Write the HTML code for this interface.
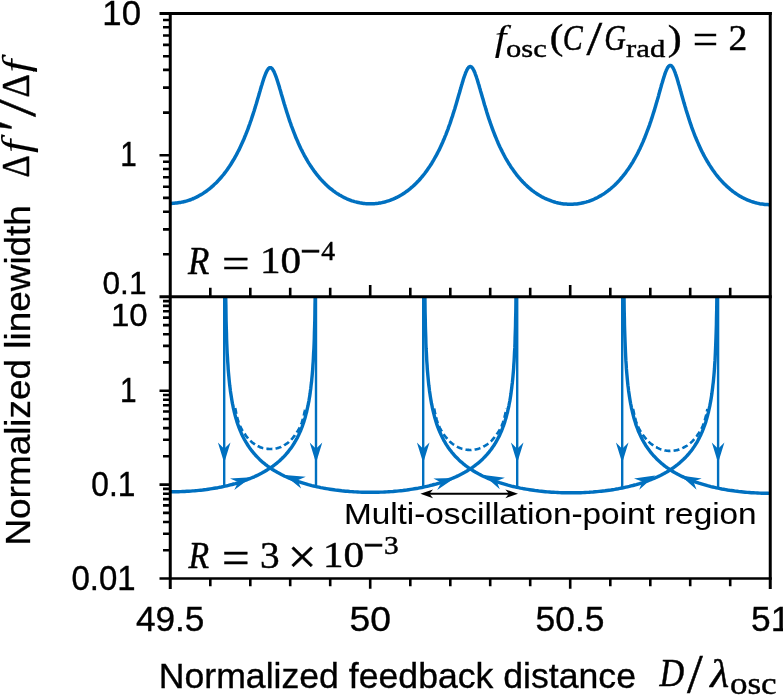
<!DOCTYPE html>
<html><head><meta charset="utf-8"><style>
html,body{margin:0;padding:0;background:#fff;overflow:hidden;}
svg{display:block;}
.s{font-family:'Liberation Sans',Arial,sans-serif;}
.m{font-family:'Liberation Serif','Times New Roman',serif;}
.i{font-style:italic;}
</style></head><body>
<svg width="783" height="696" viewBox="0 0 783 696">
<defs>
<clipPath id="clipT"><rect x="170.25" y="13.5" width="600" height="283.3"/></clipPath>
<clipPath id="clipB"><rect x="170.25" y="296.8" width="600" height="281.7"/></clipPath>
</defs>
<rect width="783" height="696" fill="#fff"/>
<g clip-path="url(#clipT)"><path d="M161.1,202.6 162.4,202.8 163.7,203 165,203.1 166.3,203.2 167.6,203.3 168.9,203.3 170.3,203.4 171.6,203.4 172.9,203.3 174.2,203.2 175.5,203.1 176.8,203 178.1,202.8 179.4,202.6 180.7,202.4 182,202.1 183.3,201.9 184.6,201.5 185.9,201.2 187.2,200.8 188.5,200.4 189.8,200 191.1,199.5 192.3,199 193.6,198.5 194.9,197.9 196.1,197.3 197.4,196.7 198.6,196 199.8,195.3 201.1,194.6 202.3,193.9 203.5,193.1 204.7,192.3 205.9,191.5 207.1,190.6 208.3,189.7 209.4,188.8 210.6,187.9 211.7,186.9 212.9,185.9 214,184.8 215.1,183.8 216.3,182.7 217.4,181.6 218.4,180.4 219.5,179.2 220.6,178 221.7,176.8 222.7,175.5 223.7,174.3 224.8,172.9 225.8,171.6 226.8,170.2 227.8,168.9 228.7,167.4 229.7,166 230.7,164.5 231.6,163 232.5,161.5 233.4,160 234.4,158.5 235.2,156.9 236.1,155.3 237,153.7 237.8,152 238.7,150.4 239.5,148.7 240.3,147 241.1,145.3 241.9,143.6 242.7,141.8 243.5,140.1 244.2,138.3 244.9,136.5 245.7,134.7 246.4,132.9 247.1,131.1 247.8,129.3 248.5,127.5 249.1,125.6 249.8,123.8 250.4,122 251.1,120.1 251.7,118.3 252.3,116.4 252.9,114.6 253.5,112.8 254.1,111 254.6,109.2 255.2,107.4 255.7,105.6 256.3,103.8 256.8,102 257.3,100.3 257.8,98.6 258.3,96.9 258.8,95.2 259.3,93.6 259.7,92 260.2,90.4 260.6,88.9 261.1,87.4 261.5,85.9 262,84.5 262.4,83.1 262.8,81.8 263.2,80.5 263.6,79.2 264,78 264.4,76.9 264.8,75.8 265.2,74.8 265.6,73.9 266,73 266.3,72.1 266.7,71.4 267.1,70.7 267.4,70.1 267.8,69.5 268.1,69 268.5,68.6 268.8,68.3 269.2,68 269.5,67.8 269.9,67.7 270.2,67.7 270.6,67.7 271,67.8 271.3,68 271.7,68.3 272,68.6 272.4,69 272.7,69.5 273.1,70 273.4,70.7 273.8,71.3 274.2,72.1 274.5,72.9 274.9,73.8 275.3,74.8 275.7,75.8 276.1,76.9 276.5,78 276.9,79.2 277.3,80.4 277.7,81.7 278.1,83 278.5,84.4 279,85.8 279.4,87.3 279.8,88.8 280.3,90.3 280.8,91.9 281.2,93.5 281.7,95.2 282.2,96.8 282.7,98.5 283.2,100.2 283.7,102 284.2,103.7 284.8,105.5 285.3,107.3 285.9,109.1 286.4,110.9 287,112.7 287.6,114.5 288.2,116.4 288.8,118.2 289.4,120.1 290,121.9 290.7,123.7 291.3,125.6 292,127.4 292.7,129.2 293.4,131.1 294.1,132.9 294.8,134.7 295.5,136.5 296.2,138.3 297,140 297.8,141.8 298.5,143.5 299.3,145.3 300.1,147 300.9,148.7 301.8,150.4 302.6,152 303.5,153.7 304.3,155.3 305.2,156.9 306.1,158.5 307,160 307.9,161.6 308.8,163.1 309.8,164.6 310.7,166.1 311.7,167.5 312.7,168.9 313.6,170.3 314.6,171.7 315.7,173 316.7,174.4 317.7,175.6 318.8,176.9 319.8,178.2 320.9,179.4 322,180.6 323.1,181.7 324.2,182.8 325.3,183.9 326.4,185 327.5,186.1 328.7,187.1 329.8,188.1 331,189 332.2,189.9 333.3,190.8 334.5,191.7 335.7,192.6 336.9,193.4 338.1,194.1 339.4,194.9 340.6,195.6 341.8,196.3 343.1,197 344.3,197.6 345.6,198.2 346.8,198.8 348.1,199.3 349.4,199.8 350.7,200.3 351.9,200.8 353.2,201.2 354.5,201.6 355.8,201.9 357.1,202.2 358.4,202.5 359.7,202.8 361,203 362.3,203.2 363.7,203.4 365,203.6 366.3,203.7 367.6,203.7 368.9,203.8 370.2,203.8 371.6,203.8 372.9,203.8 374.2,203.7 375.5,203.6 376.8,203.4 378.2,203.3 379.5,203.1 380.8,202.9 382.1,202.6 383.4,202.3 384.7,202 386,201.6 387.3,201.2 388.6,200.8 389.9,200.4 391.1,199.9 392.4,199.4 393.7,198.9 394.9,198.3 396.2,197.7 397.5,197.1 398.7,196.4 399.9,195.7 401.2,195 402.4,194.3 403.6,193.5 404.8,192.7 406,191.8 407.2,191 408.4,190.1 409.6,189.2 410.7,188.2 411.9,187.2 413,186.2 414.2,185.1 415.3,184.1 416.4,183 417.5,181.8 418.6,180.7 419.7,179.5 420.8,178.3 421.8,177 422.9,175.8 423.9,174.5 424.9,173.2 425.9,171.8 427,170.4 427.9,169 428.9,167.6 429.9,166.1 430.8,164.7 431.8,163.2 432.7,161.6 433.6,160.1 434.5,158.5 435.4,156.9 436.3,155.3 437.2,153.7 438,152 438.9,150.4 439.7,148.7 440.5,147 441.3,145.2 442.1,143.5 442.9,141.7 443.6,140 444.4,138.2 445.1,136.4 445.9,134.6 446.6,132.7 447.3,130.9 448,129.1 448.6,127.2 449.3,125.4 450,123.5 450.6,121.6 451.2,119.8 451.8,117.9 452.5,116.1 453,114.2 453.6,112.4 454.2,110.5 454.8,108.7 455.3,106.9 455.9,105 456.4,103.3 456.9,101.5 457.4,99.7 457.9,98 458.4,96.3 458.9,94.6 459.4,92.9 459.9,91.3 460.3,89.7 460.8,88.1 461.2,86.6 461.6,85.1 462.1,83.6 462.5,82.2 462.9,80.9 463.3,79.6 463.7,78.3 464.1,77.1 464.5,76 464.9,74.9 465.3,73.8 465.6,72.9 466,72 466.4,71.1 466.7,70.3 467.1,69.6 467.5,69 467.8,68.4 468.2,67.9 468.5,67.5 468.9,67.2 469.2,66.9 469.6,66.7 469.9,66.6 470.2,66.6 470.6,66.6 470.9,66.7 471.3,66.9 471.6,67.2 472,67.5 472.3,67.9 472.7,68.4 473,69 473.4,69.6 473.8,70.3 474.1,71.1 474.5,71.9 474.9,72.8 475.2,73.8 475.6,74.8 476,75.9 476.4,77 476.8,78.3 477.2,79.5 477.6,80.8 478,82.2 478.4,83.6 478.9,85 479.3,86.5 479.7,88 480.2,89.6 480.6,91.2 481.1,92.8 481.6,94.5 482.1,96.2 482.6,97.9 483.1,99.6 483.6,101.4 484.1,103.2 484.6,105 485.2,106.8 485.7,108.6 486.3,110.4 486.8,112.3 487.4,114.1 488,116 488.6,117.9 489.2,119.7 489.9,121.6 490.5,123.4 491.2,125.3 491.8,127.2 492.5,129 493.2,130.9 493.9,132.7 494.6,134.5 495.3,136.3 496.1,138.1 496.8,139.9 497.6,141.7 498.3,143.5 499.1,145.2 499.9,147 500.8,148.7 501.6,150.4 502.4,152 503.3,153.7 504.1,155.3 505,157 505.9,158.6 506.8,160.1 507.7,161.7 508.6,163.2 509.6,164.7 510.5,166.2 511.5,167.7 512.5,169.1 513.5,170.5 514.5,171.9 515.5,173.2 516.5,174.6 517.5,175.9 518.6,177.2 519.7,178.4 520.7,179.6 521.8,180.8 522.9,182 524,183.1 525.1,184.2 526.3,185.3 527.4,186.4 528.5,187.4 529.7,188.4 530.9,189.4 532,190.3 533.2,191.2 534.4,192.1 535.6,192.9 536.8,193.7 538,194.5 539.3,195.3 540.5,196 541.7,196.7 543,197.4 544.2,198 545.5,198.6 546.8,199.2 548,199.7 549.3,200.2 550.6,200.7 551.9,201.2 553.2,201.6 554.5,202 555.8,202.4 557.1,202.7 558.4,203 559.7,203.2 561,203.5 562.3,203.7 563.6,203.9 565,204 566.3,204.1 567.6,204.2 568.9,204.2 570.2,204.3 571.6,204.3 572.9,204.2 574.2,204.1 575.5,204 576.9,203.9 578.2,203.7 579.5,203.5 580.8,203.3 582.1,203 583.4,202.7 584.7,202.4 586,202.1 587.3,201.7 588.6,201.3 589.9,200.8 591.2,200.3 592.5,199.8 593.8,199.3 595,198.7 596.3,198.1 597.6,197.5 598.8,196.8 600,196.1 601.3,195.4 602.5,194.6 603.7,193.9 604.9,193.1 606.1,192.2 607.3,191.3 608.5,190.4 609.7,189.5 610.9,188.5 612,187.5 613.2,186.5 614.3,185.5 615.4,184.4 616.6,183.3 617.7,182.1 618.8,181 619.8,179.8 620.9,178.5 622,177.3 623,176 624.1,174.7 625.1,173.4 626.1,172 627.1,170.6 628.1,169.2 629.1,167.8 630.1,166.3 631,164.8 632,163.3 632.9,161.8 633.8,160.2 634.7,158.6 635.6,157 636.5,155.4 637.4,153.7 638.2,152.1 639,150.4 639.9,148.7 640.7,146.9 641.5,145.2 642.3,143.4 643.1,141.6 643.8,139.8 644.6,138 645.3,136.2 646,134.4 646.7,132.5 647.4,130.7 648.1,128.8 648.8,127 649.5,125.1 650.1,123.2 650.8,121.3 651.4,119.4 652,117.6 652.6,115.7 653.2,113.8 653.8,111.9 654.4,110.1 654.9,108.2 655.5,106.4 656,104.5 656.5,102.7 657.1,100.9 657.6,99.1 658.1,97.4 658.6,95.6 659,93.9 659.5,92.2 660,90.6 660.4,88.9 660.9,87.3 661.3,85.8 661.7,84.3 662.2,82.8 662.6,81.4 663,80 663.4,78.7 663.8,77.4 664.2,76.2 664.6,75 665,73.9 665.3,72.8 665.7,71.8 666.1,70.9 666.4,70.1 666.8,69.3 667.1,68.6 667.5,67.9 667.8,67.3 668.2,66.8 668.5,66.4 668.9,66.1 669.2,65.8 669.6,65.6 669.9,65.5 670.2,65.4 670.6,65.5 670.9,65.6 671.3,65.8 671.6,66 672,66.4 672.3,66.8 672.7,67.3 673,67.9 673.4,68.5 673.7,69.2 674.1,70 674.4,70.9 674.8,71.8 675.2,72.8 675.5,73.8 675.9,74.9 676.3,76.1 676.7,77.3 677.1,78.6 677.5,79.9 677.9,81.3 678.3,82.7 678.7,84.2 679.2,85.7 679.6,87.3 680.1,88.9 680.5,90.5 681,92.1 681.4,93.8 681.9,95.5 682.4,97.3 682.9,99 683.4,100.8 683.9,102.6 684.5,104.4 685,106.3 685.6,108.1 686.1,110 686.7,111.9 687.3,113.7 687.9,115.6 688.5,117.5 689.1,119.4 689.7,121.3 690.3,123.2 691,125 691.6,126.9 692.3,128.8 693,130.6 693.7,132.5 694.4,134.3 695.1,136.2 695.9,138 696.6,139.8 697.4,141.6 698.2,143.4 699,145.2 699.8,146.9 700.6,148.7 701.4,150.4 702.2,152.1 703.1,153.7 703.9,155.4 704.8,157 705.7,158.6 706.6,160.2 707.5,161.8 708.5,163.3 709.4,164.9 710.4,166.4 711.3,167.8 712.3,169.3 713.3,170.7 714.3,172.1 715.3,173.5 716.3,174.8 717.4,176.1 718.4,177.4 719.5,178.7 720.6,179.9 721.7,181.1 722.8,182.3 723.9,183.4 725,184.5 726.1,185.6 727.2,186.7 728.4,187.7 729.6,188.7 730.7,189.7 731.9,190.6 733.1,191.6 734.3,192.4 735.5,193.3 736.7,194.1 737.9,194.9 739.1,195.7 740.4,196.4 741.6,197.1 742.9,197.8 744.1,198.4 745.4,199 746.7,199.6 747.9,200.2 749.2,200.7 750.5,201.2 751.8,201.6 753.1,202 754.4,202.4 755.7,202.8 757,203.1 758.3,203.4 759.7,203.7 761,203.9 762.3,204.1 763.6,204.3 764.9,204.5 766.3,204.6 767.6,204.6 768.9,204.7 770.2,204.7" fill="none" stroke="#0070C0" stroke-width="3.5" stroke-linejoin="round"/></g>
<g clip-path="url(#clipB)">
<path d="M151.7,491.1 153.8,491.3 155.8,491.4 157.8,491.5 159.9,491.6 161.9,491.6 164,491.7 166.1,491.7 168.2,491.8 170.3,491.8 172.3,491.8 174.4,491.8 176.5,491.7 178.6,491.7 180.6,491.6 182.7,491.5 184.7,491.5 186.8,491.3 188.8,491.2 190.8,491.1 192.8,490.9 194.8,490.8 196.8,490.6 198.8,490.4 200.7,490.2 202.7,490 204.6,489.7 206.5,489.5 208.4,489.2 210.3,488.9 212.2,488.6 214.1,488.3 215.9,488 217.8,487.7 219.6,487.3 221.4,487 223.2,486.6 225,486.2 226.8,485.8 228.5,485.4 230.3,484.9 232,484.5 233.7,484 235.4,483.6 237,483.1 238.7,482.6 240.3,482 242,481.5 243.6,481 245.1,480.4 246.7,479.8 248.2,479.2 249.8,478.6 251.3,478 252.8,477.4 254.3,476.8 255.7,476.1 257.2,475.4 258.6,474.7 260,474 261.4,473.3 262.7,472.6 264.1,471.8 265.4,471 266.7,470.2 268,469.4 269.3,468.6 270.5,467.8 271.8,466.9 273,466.1 274.2,465.2 275.3,464.3 276.5,463.4 277.6,462.4 278.8,461.5 279.9,460.5 280.9,459.5 282,458.5 283,457.4 284.1,456.4 285.1,455.3 286.1,454.2 287,453.1 288,452 288.9,450.8 289.8,449.6 290.7,448.4 291.6,447.2 292.5,445.9 293.3,444.6 294.1,443.3 294.9,442 295.7,440.6 296.5,439.2 297.3,437.8 298,436.3 298.7,434.9 299.4,433.3 300.1,431.8 300.8,430.2 301.4,428.6 302.1,426.9 302.7,425.2 303.3,423.5 303.9,421.7 304.4,419.9 305,418 305.5,416.1 306,414.1 306.6,412.1 307,410 307.5,407.9 308,405.7 308.4,403.4 308.9,401.1 309.3,398.6 309.7,396.2 310.1,393.6 310.4,390.9 310.8,388.2 311.1,385.3 311.5,382.3 311.8,379.2 312.1,376 312.4,372.7 312.7,369.1 312.9,365.4 313.2,361.6 313.4,357.5 313.6,353.1 313.9,348.5 314.1,343.7 314.3,338.4 314.4,332.8 314.6,326.7 314.8,320 314.9,312.7 315,304.6 315.2,295.4" fill="none" stroke="#0070C0" stroke-width="3.4" stroke-linejoin="round"/>
<path d="M225.7,296.4 225.9,305.4 226,313.4 226.1,320.6 226.3,327.2 226.5,333.2 226.6,338.8 226.8,344 227,348.8 227.2,353.4 227.5,357.7 227.7,361.7 228,365.6 228.2,369.3 228.5,372.8 228.8,376.1 229.1,379.3 229.4,382.4 229.7,385.3 230.1,388.2 230.4,390.9 230.8,393.6 231.2,396.1 231.6,398.6 232,401 232.4,403.4 232.9,405.6 233.3,407.8 233.8,409.9 234.3,412 234.8,414 235.3,416 235.8,417.9 236.4,419.8 236.9,421.6 237.5,423.4 238.1,425.1 238.7,426.8 239.4,428.5 240,430.1 240.7,431.7 241.3,433.2 242,434.8 242.7,436.2 243.5,437.7 244.2,439.1 245,440.5 245.8,441.9 246.6,443.2 247.4,444.5 248.2,445.8 249.1,447.1 249.9,448.3 250.8,449.5 251.7,450.7 252.7,451.9 253.6,453 254.6,454.1 255.5,455.3 256.5,456.3 257.6,457.4 258.6,458.4 259.6,459.4 260.7,460.4 261.8,461.4 262.9,462.4 264.1,463.3 265.2,464.3 266.4,465.2 267.6,466.1 268.8,466.9 270,467.8 271.2,468.6 272.5,469.5 273.8,470.3 275.1,471.1 276.4,471.8 277.7,472.6 279.1,473.3 280.5,474.1 281.8,474.8 283.3,475.5 284.7,476.2 286.1,476.8 287.6,477.5 289.1,478.1 290.6,478.7 292.1,479.4 293.7,480 295.2,480.5 296.8,481.1 298.4,481.7 300,482.2 301.6,482.7 303.3,483.2 305,483.7 306.6,484.2 308.3,484.7 310.1,485.1 311.8,485.6 313.5,486 315.3,486.4 317.1,486.8 318.9,487.2 320.7,487.6 322.5,487.9 324.4,488.3 326.2,488.6 328.1,488.9 330,489.2 331.9,489.5 333.8,489.8 335.7,490.1 337.7,490.3 339.6,490.5 341.6,490.8 343.6,491 345.6,491.2 347.6,491.3 349.6,491.5 351.6,491.6 353.6,491.8 355.7,491.9 357.7,492 359.8,492.1 361.9,492.2 364,492.2 366,492.3 368.1,492.3 370.2,492.3 372.4,492.3 374.5,492.3 376.5,492.3 378.6,492.2 380.7,492.1 382.8,492.1 384.8,492 386.9,491.9 388.9,491.7 390.9,491.6 393,491.5 395,491.3 397,491.1 399,490.9 400.9,490.7 402.9,490.5 404.9,490.2 406.8,490 408.7,489.7 410.6,489.4 412.5,489.1 414.4,488.8 416.3,488.5 418.1,488.2 420,487.8 421.8,487.5 423.6,487.1 425.4,486.7 427.2,486.3 429,485.9 430.7,485.4 432.4,485 434.2,484.5 435.9,484.1 437.5,483.6 439.2,483.1 440.8,482.5 442.5,482 444.1,481.5 445.7,480.9 447.3,480.3 448.8,479.7 450.4,479.1 451.9,478.5 453.4,477.9 454.9,477.2 456.3,476.6 457.8,475.9 459.2,475.2 460.6,474.5 462,473.8 463.4,473 464.7,472.3 466.1,471.5 467.4,470.7 468.7,469.9 470,469.1 471.2,468.3 472.5,467.4 473.7,466.5 474.9,465.6 476.1,464.7 477.2,463.8 478.4,462.9 479.5,461.9 480.6,460.9 481.7,459.9 482.8,458.9 483.8,457.9 484.9,456.8 485.9,455.7 486.9,454.6 487.8,453.5 488.8,452.4 489.7,451.2 490.7,450 491.6,448.8 492.4,447.5 493.3,446.3 494.2,445 495,443.7 495.8,442.3 496.6,440.9 497.4,439.5 498.1,438.1 498.9,436.7 499.6,435.2 500.3,433.6 501,432.1 501.7,430.5 502.3,428.9 502.9,427.2 503.6,425.5 504.2,423.7 504.8,421.9 505.3,420.1 505.9,418.2 506.4,416.3 506.9,414.3 507.5,412.2 507.9,410.2 508.4,408 508.9,405.8 509.3,403.5 509.8,401.1 510.2,398.7 510.6,396.2 511,393.6 511.3,390.9 511.7,388.1 512,385.2 512.4,382.2 512.7,379.1 513,375.8 513.3,372.4 513.6,368.8 513.8,365.1 514.1,361.1 514.3,357 514.5,352.6 514.8,347.9 515,342.9 515.1,337.6 515.3,331.8 515.5,325.5 515.6,318.7 515.8,311.2 515.9,302.7 516,293.2" fill="none" stroke="#0070C0" stroke-width="3.4" stroke-linejoin="round"/>
<path d="M424.9,294.2 425,303.6 425.1,311.9 425.3,319.3 425.4,326.1 425.6,332.2 425.8,337.9 425.9,343.2 426.1,348.2 426.4,352.8 426.6,357.2 426.8,361.3 427.1,365.2 427.3,369 427.6,372.5 427.9,375.9 428.2,379.1 428.5,382.3 428.8,385.3 429.2,388.1 429.5,390.9 429.9,393.6 430.3,396.2 430.7,398.7 431.1,401.1 431.5,403.5 432,405.7 432.4,407.9 432.9,410.1 433.4,412.2 433.9,414.2 434.4,416.2 434.9,418.1 435.5,420 436,421.8 436.6,423.6 437.2,425.4 437.8,427.1 438.5,428.8 439.1,430.4 439.8,432 440.5,433.5 441.2,435.1 441.9,436.6 442.6,438 443.4,439.5 444.1,440.9 444.9,442.2 445.7,443.6 446.5,444.9 447.4,446.2 448.2,447.5 449.1,448.7 450,449.9 450.9,451.1 451.8,452.3 452.8,453.4 453.8,454.6 454.7,455.7 455.7,456.7 456.8,457.8 457.8,458.8 458.9,459.9 460,460.9 461.1,461.9 462.2,462.8 463.3,463.8 464.5,464.7 465.6,465.6 466.8,466.5 468,467.4 469.3,468.2 470.5,469.1 471.8,469.9 473.1,470.7 474.4,471.5 475.7,472.3 477.1,473.1 478.4,473.8 479.8,474.5 481.2,475.3 482.6,476 484.1,476.6 485.5,477.3 487,478 488.5,478.6 490,479.2 491.6,479.8 493.1,480.4 494.7,481 496.3,481.6 497.9,482.1 499.5,482.7 501.1,483.2 502.8,483.7 504.5,484.2 506.2,484.7 507.9,485.2 509.6,485.6 511.4,486.1 513.1,486.5 514.9,486.9 516.7,487.3 518.5,487.7 520.3,488.1 522.2,488.4 524,488.8 525.9,489.1 527.8,489.4 529.7,489.7 531.6,490 533.5,490.3 535.5,490.6 537.4,490.8 539.4,491.1 541.4,491.3 543.4,491.5 545.4,491.7 547.4,491.9 549.4,492 551.5,492.2 553.5,492.3 555.6,492.4 557.7,492.5 559.7,492.6 561.8,492.7 563.9,492.7 566,492.8 568.1,492.8 570.2,492.8 572.4,492.8 574.5,492.8 576.6,492.8 578.7,492.7 580.8,492.7 582.9,492.6 584.9,492.5 587,492.4 589.1,492.3 591.1,492.1 593.1,492 595.2,491.8 597.2,491.6 599.2,491.4 601.2,491.2 603.1,491 605.1,490.8 607.1,490.5 609,490.2 610.9,490 612.8,489.7 614.7,489.4 616.6,489 618.5,488.7 620.3,488.3 622.2,488 624,487.6 625.8,487.2 627.6,486.8 629.4,486.4 631.1,485.9 632.9,485.5 634.6,485 636.3,484.6 638,484.1 639.7,483.6 641.4,483 643,482.5 644.6,482 646.2,481.4 647.8,480.8 649.4,480.2 650.9,479.6 652.5,479 654,478.4 655.5,477.7 657,477.1 658.4,476.4 659.9,475.7 661.3,475 662.7,474.2 664.1,473.5 665.4,472.7 666.8,472 668.1,471.2 669.4,470.4 670.7,469.5 672,468.7 673.2,467.8 674.4,467 675.6,466.1 676.8,465.2 678,464.2 679.2,463.3 680.3,462.3 681.4,461.3 682.5,460.3 683.6,459.3 684.6,458.3 685.7,457.2 686.7,456.1 687.7,455 688.7,453.9 689.6,452.7 690.6,451.6 691.5,450.4 692.4,449.2 693.3,447.9 694.2,446.6 695,445.3 695.8,444 696.7,442.7 697.5,441.3 698.2,439.9 699,438.4 699.7,437 700.5,435.5 701.2,433.9 701.9,432.4 702.5,430.8 703.2,429.1 703.8,427.4 704.5,425.7 705.1,424 705.7,422.2 706.2,420.3 706.8,418.4 707.3,416.5 707.8,414.5 708.4,412.4 708.8,410.3 709.3,408.1 709.8,405.9 710.2,403.6 710.7,401.2 711.1,398.8 711.5,396.2 711.9,393.6 712.2,390.9 712.6,388.1 712.9,385.1 713.3,382.1 713.6,378.9 713.9,375.6 714.2,372.2 714.5,368.5 714.7,364.7 715,360.7 715.2,356.5 715.4,352 715.6,347.3 715.8,342.2 716,336.7 716.2,330.8 716.4,324.4 716.5,317.3 716.7,309.6 716.8,300.8 716.9,290.9" fill="none" stroke="#0070C0" stroke-width="3.4" stroke-linejoin="round"/>
<path d="M624,292 624.1,301.7 624.2,310.3 624.4,318 624.5,324.9 624.7,331.3 624.9,337.1 625.1,342.5 625.3,347.6 625.5,352.3 625.7,356.7 625.9,360.9 626.2,364.9 626.4,368.7 626.7,372.3 627,375.7 627.3,379 627.6,382.1 627.9,385.2 628.3,388.1 628.6,390.9 629,393.6 629.4,396.2 629.8,398.7 630.2,401.2 630.6,403.5 631.1,405.8 631.5,408.1 632,410.2 632.5,412.4 633,414.4 633.5,416.4 634,418.3 634.6,420.2 635.2,422.1 635.7,423.9 636.3,425.6 637,427.4 637.6,429 638.2,430.7 638.9,432.3 639.6,433.8 640.3,435.4 641,436.9 641.8,438.4 642.5,439.8 643.3,441.2 644.1,442.6 644.9,443.9 645.7,445.3 646.5,446.6 647.4,447.8 648.3,449.1 649.2,450.3 650.1,451.5 651,452.7 652,453.8 653,455 653.9,456.1 655,457.1 656,458.2 657,459.3 658.1,460.3 659.2,461.3 660.3,462.3 661.4,463.3 662.6,464.2 663.7,465.1 664.9,466.1 666.1,467 667.3,467.8 668.6,468.7 669.8,469.5 671.1,470.4 672.4,471.2 673.7,472 675,472.8 676.4,473.5 677.8,474.3 679.2,475 680.6,475.7 682,476.4 683.5,477.1 684.9,477.8 686.4,478.4 687.9,479.1 689.5,479.7 691,480.3 692.6,480.9 694.1,481.5 695.7,482.1 697.4,482.6 699,483.2 700.6,483.7 702.3,484.2 704,484.7 705.7,485.2 707.4,485.7 709.2,486.1 710.9,486.6 712.7,487 714.5,487.4 716.3,487.8 718.1,488.2 720,488.6 721.8,489 723.7,489.3 725.6,489.6 727.5,490 729.4,490.3 731.3,490.5 733.3,490.8 735.2,491.1 737.2,491.3 739.2,491.6 741.2,491.8 743.2,492 745.2,492.2 747.2,492.4 749.3,492.5 751.3,492.7 753.4,492.8 755.5,492.9 757.6,493 759.7,493.1 761.8,493.2 763.9,493.3 766,493.3 768.1,493.3 770.2,493.4 772.4,493.4 774.5,493.3 776.6,493.3 778.7,493.3 780.9,493.2 783,493.1 785,493 787.1,492.9 789.2,492.8" fill="none" stroke="#0070C0" stroke-width="3.4" stroke-linejoin="round"/>
<path d="M235.2,408 235.8,410.8 236.2,413.4 236.8,415.7 237.2,417.7 237.8,419.5 238.2,421.2 238.8,422.7 239.2,424 239.8,425.2 240.2,426.3 240.8,427.4 241.2,428.4 241.8,429.3 242.2,430.2 242.8,431 243.2,431.8 243.8,432.6 244.2,433.3 244.8,434 245.2,434.7 245.8,435.4 246.2,436.1 246.8,436.7 247.2,437.4 247.8,438 248.2,438.6 248.8,439.1 249.2,439.7 249.8,440.2 250.2,440.7 250.8,441.2 251.2,441.6 251.8,442.1 252.2,442.5 252.8,442.9 253.2,443.2 253.8,443.6 254.2,443.9 254.8,444.3 255.2,444.6 255.8,444.9 256.2,445.2 256.8,445.5 257.2,445.7 257.8,446 258.2,446.3 258.8,446.5 259.2,446.7 259.8,447 260.2,447.2 260.8,447.4 261.2,447.6 261.8,447.7 262.2,447.9 262.8,448.1 263.2,448.2 263.8,448.3 264.2,448.4 264.8,448.5 265.2,448.6 265.8,448.7 266.2,448.8 266.8,448.8 267.2,448.9 267.8,448.9 268.2,448.9 268.8,449 269.2,449 269.8,449 270.2,449 270.8,449 271.2,449 271.8,449 272.2,448.9 272.8,448.9 273.2,448.9 273.8,448.8 274.2,448.8 274.8,448.7 275.2,448.6 275.8,448.5 276.2,448.4 276.8,448.3 277.2,448.2 277.8,448.1 278.2,447.9 278.8,447.7 279.2,447.6 279.8,447.4 280.2,447.2 280.8,447 281.2,446.7 281.8,446.5 282.2,446.3 282.8,446 283.2,445.7 283.8,445.5 284.2,445.2 284.8,444.9 285.2,444.6 285.8,444.3 286.2,443.9 286.8,443.6 287.2,443.2 287.8,442.9 288.2,442.5 288.8,442.1 289.2,441.6 289.8,441.2 290.2,440.7 290.8,440.2 291.2,439.7 291.8,439.1 292.2,438.6 292.8,438 293.2,437.4 293.8,436.7 294.2,436.1 294.8,435.4 295.2,434.7 295.8,434 296.2,433.3 296.8,432.6 297.2,431.8 297.8,431 298.2,430.2 298.8,429.3 299.2,428.4 299.8,427.4 300.2,426.3 300.8,425.2 301.2,424 301.8,422.7 302.2,421.2 302.8,419.5 303.2,417.7 303.8,415.7 304.2,413.4 304.8,410.8 305.2,408" fill="none" stroke="#0070C0" stroke-width="2.6" stroke-dasharray="6 3.2"/>
<path d="M434.2,408.5 434.7,411.3 435.2,413.9 435.7,416.2 436.3,418.2 436.8,420.1 437.3,421.7 437.8,423.2 438.3,424.5 438.8,425.8 439.4,426.9 439.9,428 440.4,429 440.9,429.9 441.4,430.8 441.9,431.6 442.4,432.4 443,433.2 443.5,433.9 444,434.7 444.5,435.4 445,436.1 445.5,436.7 446,437.4 446.6,438 447.1,438.6 447.6,439.2 448.1,439.8 448.6,440.4 449.1,440.9 449.6,441.4 450.2,441.9 450.7,442.3 451.2,442.8 451.7,443.2 452.2,443.6 452.7,444 453.3,444.4 453.8,444.7 454.3,445 454.8,445.4 455.3,445.7 455.8,446 456.3,446.3 456.9,446.5 457.4,446.8 457.9,447.1 458.4,447.3 458.9,447.6 459.4,447.8 459.9,448 460.5,448.2 461,448.4 461.5,448.6 462,448.8 462.5,448.9 463,449.1 463.6,449.2 464.1,449.3 464.6,449.4 465.1,449.5 465.6,449.6 466.1,449.7 466.6,449.8 467.2,449.8 467.7,449.9 468.2,449.9 468.7,449.9 469.2,450 469.7,450 470.2,450 470.8,450 471.3,450 471.8,449.9 472.3,449.9 472.8,449.9 473.3,449.8 473.9,449.8 474.4,449.7 474.9,449.6 475.4,449.5 475.9,449.4 476.4,449.3 476.9,449.2 477.5,449.1 478,448.9 478.5,448.8 479,448.6 479.5,448.4 480,448.2 480.6,448 481.1,447.8 481.6,447.6 482.1,447.3 482.6,447.1 483.1,446.8 483.6,446.5 484.2,446.3 484.7,446 485.2,445.7 485.7,445.4 486.2,445 486.7,444.7 487.2,444.4 487.8,444 488.3,443.6 488.8,443.2 489.3,442.8 489.8,442.3 490.3,441.9 490.9,441.4 491.4,440.9 491.9,440.4 492.4,439.8 492.9,439.2 493.4,438.6 493.9,438 494.5,437.4 495,436.7 495.5,436.1 496,435.4 496.5,434.7 497,433.9 497.5,433.2 498.1,432.4 498.6,431.6 499.1,430.8 499.6,429.9 500.1,429 500.6,428 501.1,426.9 501.7,425.8 502.2,424.5 502.7,423.2 503.2,421.7 503.7,420.1 504.2,418.2 504.8,416.2 505.3,413.9 505.8,411.3 506.3,408.5" fill="none" stroke="#0070C0" stroke-width="2.6" stroke-dasharray="6 3.2"/>
<path d="M633.1,409 633.7,411.8 634.2,414.4 634.7,416.7 635.3,418.7 635.8,420.6 636.3,422.2 636.9,423.7 637.4,425.1 637.9,426.3 638.5,427.5 639,428.5 639.5,429.5 640,430.5 640.6,431.4 641.1,432.2 641.6,433 642.2,433.8 642.7,434.5 643.2,435.3 643.8,436 644.3,436.7 644.8,437.4 645.3,438 645.9,438.7 646.4,439.3 646.9,439.9 647.5,440.5 648,441.1 648.5,441.6 649,442.1 649.6,442.6 650.1,443.1 650.6,443.5 651.2,443.9 651.7,444.3 652.2,444.7 652.8,445.1 653.3,445.5 653.8,445.8 654.4,446.1 654.9,446.4 655.4,446.8 655.9,447.1 656.5,447.3 657,447.6 657.5,447.9 658.1,448.1 658.6,448.4 659.1,448.6 659.6,448.9 660.2,449.1 660.7,449.3 661.2,449.5 661.8,449.6 662.3,449.8 662.8,450 663.4,450.1 663.9,450.2 664.4,450.3 665,450.5 665.5,450.5 666,450.6 666.5,450.7 667.1,450.8 667.6,450.8 668.1,450.9 668.7,450.9 669.2,450.9 669.7,450.9 670.2,451 670.8,450.9 671.3,450.9 671.8,450.9 672.4,450.9 672.9,450.8 673.4,450.8 674,450.7 674.5,450.6 675,450.5 675.5,450.5 676.1,450.3 676.6,450.2 677.1,450.1 677.7,450 678.2,449.8 678.7,449.6 679.3,449.5 679.8,449.3 680.3,449.1 680.9,448.9 681.4,448.6 681.9,448.4 682.4,448.1 683,447.9 683.5,447.6 684,447.3 684.6,447.1 685.1,446.8 685.6,446.4 686.1,446.1 686.7,445.8 687.2,445.5 687.7,445.1 688.3,444.7 688.8,444.3 689.3,443.9 689.9,443.5 690.4,443.1 690.9,442.6 691.5,442.1 692,441.6 692.5,441.1 693,440.5 693.6,439.9 694.1,439.3 694.6,438.7 695.2,438 695.7,437.4 696.2,436.7 696.8,436 697.3,435.3 697.8,434.5 698.3,433.8 698.9,433 699.4,432.2 699.9,431.4 700.5,430.5 701,429.5 701.5,428.5 702,427.5 702.6,426.3 703.1,425.1 703.6,423.7 704.2,422.2 704.7,420.6 705.2,418.7 705.8,416.7 706.3,414.4 706.8,411.8 707.4,409" fill="none" stroke="#0070C0" stroke-width="2.6" stroke-dasharray="6 3.2"/>
<line x1="224.2" y1="297" x2="224.2" y2="486.4" stroke="#0070C0" stroke-width="2.4"/>
<line x1="316" y1="297" x2="316" y2="486.6" stroke="#0070C0" stroke-width="2.4"/>
<line x1="423.2" y1="297" x2="423.2" y2="487.2" stroke="#0070C0" stroke-width="2.4"/>
<line x1="517.2" y1="297" x2="517.2" y2="487.4" stroke="#0070C0" stroke-width="2.4"/>
<line x1="622.2" y1="297" x2="622.2" y2="488" stroke="#0070C0" stroke-width="2.4"/>
<line x1="718.1" y1="297" x2="718.1" y2="488.2" stroke="#0070C0" stroke-width="2.4"/>
<path d="M224.2,463 L217.9,442.5 L224.2,448.8 L230.5,442.5 Z" fill="#0070C0"/>
<path d="M316,463 L309.7,442.5 L316,448.8 L322.3,442.5 Z" fill="#0070C0"/>
<path d="M251.4,477.2 L230,478.6 L238.1,482.1 L234.3,490.1 Z" fill="#0070C0"/>
<path d="M284.4,475 L305.8,476.7 L297.6,480.3 L301.1,488.5 Z" fill="#0070C0"/>
<path d="M423.2,463 L416.9,442.5 L423.2,448.8 L429.5,442.5 Z" fill="#0070C0"/>
<path d="M517.2,463 L510.9,442.5 L517.2,448.8 L523.5,442.5 Z" fill="#0070C0"/>
<path d="M454.8,477.9 L433.4,478.6 L441.3,482.4 L437.2,490.1 Z" fill="#0070C0"/>
<path d="M483.6,475.1 L504.9,477.7 L496.6,480.9 L499.8,489.2 Z" fill="#0070C0"/>
<path d="M622.2,463 L615.9,442.5 L622.2,448.8 L628.5,442.5 Z" fill="#0070C0"/>
<path d="M718.1,463 L711.8,442.5 L718.1,448.8 L724.4,442.5 Z" fill="#0070C0"/>
<path d="M655.2,475.5 L634,478.6 L642.3,481.5 L639.2,489.7 Z" fill="#0070C0"/>
<path d="M680.5,475.6 L701.7,478.4 L693.4,481.5 L696.6,489.7 Z" fill="#0070C0"/>
</g>
<line x1="428" y1="493.8" x2="510" y2="493.8" stroke="#000" stroke-width="2"/>
<path d="M420.4,493.8 L433,489.4 L429.5,493.8 L433,498.2 Z" fill="#000"/>
<path d="M518,493.8 L505.4,498.2 L508.9,493.8 L505.4,489.4 Z" fill="#000"/>
<line x1="170.25" y1="12" x2="170.25" y2="589" stroke="#000" stroke-width="3"/>
<line x1="770.25" y1="12" x2="770.25" y2="589" stroke="#000" stroke-width="3"/>
<line x1="159.5" y1="13.5" x2="771.75" y2="13.5" stroke="#000" stroke-width="3"/>
<line x1="159.5" y1="296.8" x2="771.75" y2="296.8" stroke="#000" stroke-width="3"/>
<line x1="159.5" y1="578.5" x2="771.75" y2="578.5" stroke="#000" stroke-width="2.7"/>
<path d="M163,112.6H170M163,87.6H170M163,69.9H170M163,56.2H170M163,44.9H170M163,35.5H170M163,27.2H170M163,20H170M163,254.3H170M163,229.4H170M163,211.7H170M163,197.9H170M163,186.7H170M163,177.2H170M163,169H170M163,161.7H170M159.5,155.2H170M163,362.4H170M163,345.9H170M163,334.2H170M163,325.1H170M163,317.6H170M163,311.3H170M163,305.9H170M163,301.1H170M163,456.3H170M163,439.8H170M163,428.1H170M163,419H170M163,411.5H170M163,405.2H170M163,399.8H170M163,395H170M163,550.2H170M163,533.7H170M163,522H170M163,512.9H170M163,505.4H170M163,499.1H170M163,493.7H170M163,488.9H170M159.5,390.7H170M159.5,484.6H170M210.3,296.8V287.8M210.3,578.5V586.2M250.3,296.8V287.8M250.3,578.5V586.2M290.2,296.8V287.8M290.2,578.5V586.2M330.2,296.8V287.8M330.2,578.5V586.2M370.2,296.8V285.0M370.2,578.5V588.8M410.3,296.8V287.8M410.3,578.5V586.2M450.3,296.8V287.8M450.3,578.5V586.2M490.2,296.8V287.8M490.2,578.5V586.2M530.2,296.8V287.8M530.2,578.5V586.2M570.2,296.8V285.0M570.2,578.5V588.8M610.3,296.8V287.8M610.3,578.5V586.2M650.3,296.8V287.8M650.3,578.5V586.2M690.2,296.8V287.8M690.2,578.5V586.2M730.2,296.8V287.8M730.2,578.5V586.2" stroke="#000" stroke-width="2.6" fill="none"/>
<g fill="#000">
<text class="s" font-size="100" stroke="#000" stroke-width="1.01" transform="matrix(0.3475 0 0 0.3423 102.32 24.76)">10</text>
<text class="s" font-size="100" stroke="#000" stroke-width="1.07" transform="matrix(0.2971 0 0 0.3565 120.24 166.30)">1</text>
<text class="s" font-size="100" stroke="#000" stroke-width="1.07" transform="matrix(0.2983 0 0 0.3580 120.00 402.00)">1</text>
<text class="s" font-size="100" stroke="#000" stroke-width="1.05" transform="matrix(0.3177 0 0 0.3521 91.23 495.75)">0.1</text>
<text class="s" font-size="100" stroke="#000" stroke-width="1.03" transform="matrix(0.3296 0 0 0.3507 71.48 589.65)">0.01</text>
<text class="s" font-size="100" stroke="#000" stroke-width="1.11" transform="matrix(0.3162 0 0 0.3127 102.54 293.59)">0.1</text>
<text class="s" font-size="100" stroke="#000" stroke-width="1.09" transform="matrix(0.3303 0 0 0.3141 110.96 326.19)">10</text>
<text class="s" font-size="100" stroke="#000" stroke-width="0.99" transform="matrix(0.3521 0 0 0.3549 135.90 631.05)">49.5</text>
<text class="s" font-size="100" stroke="#000" stroke-width="0.96" transform="matrix(0.3728 0 0 0.3549 349.51 631.05)">50</text>
<text class="s" font-size="100" stroke="#000" stroke-width="0.99" transform="matrix(0.3543 0 0 0.3549 535.48 631.05)">50.5</text>
<text class="m" font-style="italic" font-size="100" stroke="#000" stroke-width="0.26" transform="matrix(0.4187 0 0 0.3489 494.63 49.97)">f</text>
<text class="m" font-size="100" stroke="#000" stroke-width="1.59" transform="matrix(0.3056 0 0 0.2604 505.98 57.04)">osc</text>
<text class="m" font-size="100" stroke="#000" stroke-width="1.19" transform="matrix(0.4077 0 0 0.3511 549.67 49.43)">(</text>
<text class="m" font-style="italic" font-size="100" stroke="#000" stroke-width="1.37" transform="matrix(0.2992 0 0 0.3591 562.78 49.54)">C</text>
<text class="m" font-size="100" stroke="#000" stroke-width="0.87" transform="matrix(0.5643 0 0 0.4758 586.40 54.82)">/</text>
<text class="m" font-style="italic" font-size="100" stroke="#000" stroke-width="1.37" transform="matrix(0.2992 0 0 0.3591 604.18 49.54)">G</text>
<text class="m" font-size="100" stroke="#000" stroke-width="1.60" transform="matrix(0.3069 0 0 0.2557 626.11 56.54)">rad</text>
<text class="m" font-size="100" stroke="#000" stroke-width="1.16" transform="matrix(0.4192 0 0 0.3556 667.74 49.63)">)</text>
<text class="m" font-size="100" stroke="#000" stroke-width="1.04" transform="matrix(0.4511 0 0 0.4120 692.64 53.05)">=</text>
<text class="m" font-size="100" stroke="#000" stroke-width="1.23" transform="matrix(0.3750 0 0 0.3585 728.40 49.60)">2</text>
<text class="m" font-style="italic" font-size="100" stroke="#000" stroke-width="1.21" transform="matrix(0.3492 0 0 0.3938 188.10 273.80)">R</text>
<text class="m" font-size="100" stroke="#000" stroke-width="0.98" transform="matrix(0.4894 0 0 0.4280 221.95 277.09)">=</text>
<text class="m" font-size="100" stroke="#000" stroke-width="1.14" transform="matrix(0.4115 0 0 0.3750 259.90 273.05)">10</text>
<text class="m" font-size="100" stroke="#000" stroke-width="1.12" transform="matrix(0.3667 0 0 0.4400 300.20 266.14)">−</text>
<text class="m" font-size="100" stroke="#000" stroke-width="1.66" transform="matrix(0.2761 0 0 0.2677 321.35 260.00)">4</text>
<text class="m" font-style="italic" font-size="100" stroke="#000" stroke-width="1.25" transform="matrix(0.3373 0 0 0.3846 188.40 568.00)">R</text>
<text class="m" font-size="100" stroke="#000" stroke-width="0.95" transform="matrix(0.4894 0 0 0.4600 221.95 572.66)">=</text>
<text class="m" font-size="100" stroke="#000" stroke-width="1.16" transform="matrix(0.3927 0 0 0.3833 259.94 567.92)">3</text>
<text class="m" font-size="100" stroke="#000" stroke-width="0.91" transform="matrix(0.5100 0 0 0.4800 287.82 573.04)">×</text>
<text class="m" font-size="100" stroke="#000" stroke-width="1.16" transform="matrix(0.4103 0 0 0.3676 323.01 567.26)">10</text>
<text class="m" font-size="100" stroke="#000" stroke-width="1.12" transform="matrix(0.3667 0 0 0.4400 363.30 560.14)">−</text>
<text class="m" font-size="100" stroke="#000" stroke-width="1.68" transform="matrix(0.2927 0 0 0.2439 384.04 554.26)">3</text>
<text class="m" font-style="italic" font-size="100" stroke="#000" stroke-width="1.21" transform="matrix(0.3417 0 0 0.4046 659.54 686.30)">D</text>
<text class="m" font-size="100" stroke="#000" stroke-width="0.80" transform="matrix(0.5679 0 0 0.5576 687.10 692.24)">/</text>
<text class="m" font-style="italic" font-size="100" stroke="#000" stroke-width="1.08" transform="matrix(0.4372 0 0 0.3943 710.17 686.60)">λ</text>
<text class="m" font-size="100" stroke="#000" stroke-width="1.35" transform="matrix(0.3508 0 0 0.3167 729.90 693.98)">osc</text>
<text class="s" font-size="100" stroke="#000" stroke-width="0.99" transform="matrix(0.3564 0 0 0.3479 158.75 687.90)">Normalized feedback distance</text>
<text class="s" font-size="100" stroke="#000" stroke-width="0.31" transform="matrix(0.3330 0 0 0.3027 343.94 523.70)">Multi-oscillation-point region</text>
<text class="s" font-size="35.3" stroke="#000" stroke-width="0.35" x="770.7" y="631.2" text-anchor="middle">51</text>
<g transform="rotate(-90)">
<text class="s" font-size="100" stroke="#000" stroke-width="0.83" transform="matrix(0.3692 0 0 0.3548 -545.55 29.70)">Normalized linewidth</text>
<text class="m" font-size="100" stroke="#000" stroke-width="1.21" transform="matrix(0.3491 0 0 0.3955 -177.60 29.10)">Δ</text>
<text class="m" font-style="italic" font-size="100" stroke="#000" stroke-width="0.23" transform="matrix(0.4709 0 0 0.3924 -153.02 29.46)">f</text>
<text class="m" font-size="100" stroke="#000" stroke-width="0.79" transform="matrix(0.5667 0 0 0.5696 -131.23 36.02)">′</text>
<text class="m" font-size="100" stroke="#000" stroke-width="0.77" transform="matrix(0.6345 0 0 0.5288 -116.98 35.37)">/</text>
<text class="m" font-size="100" stroke="#000" stroke-width="1.18" transform="matrix(0.3684 0 0 0.3970 -97.77 29.30)">Δ</text>
<text class="m" font-style="italic" font-size="100" stroke="#000" stroke-width="0.24" transform="matrix(0.4630 0 0 0.3859 -72.46 29.20)">f</text>
</g>
</g>

</svg>
</body></html>
